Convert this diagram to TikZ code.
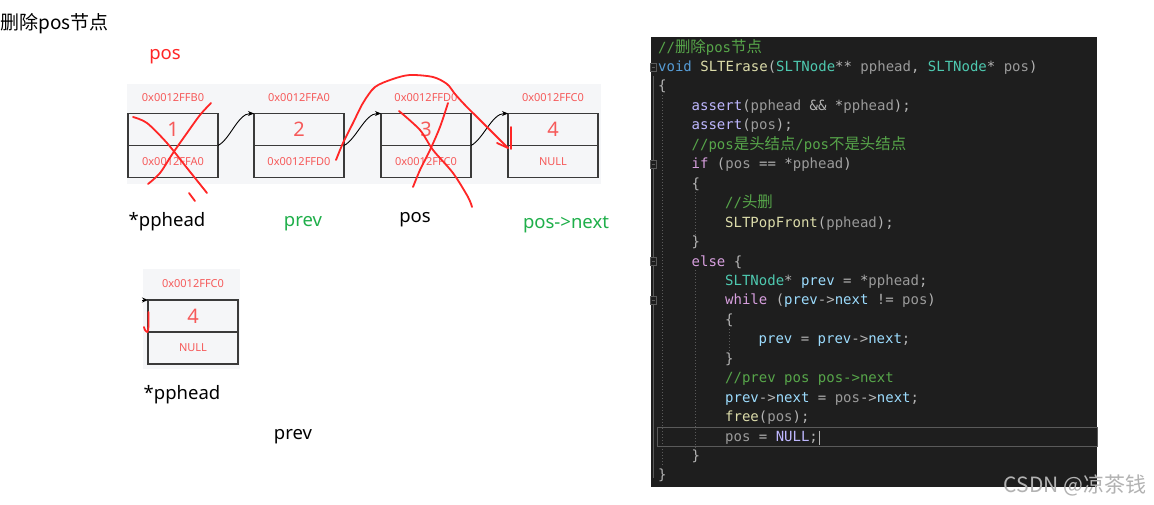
\documentclass[tikz,border=0pt]{standalone}
\usepackage{fontspec}
\setmainfont{Noto Sans}
\newfontfamily\cjk{Noto Sans CJK SC}
\newfontfamily\codefont{DejaVu Sans Mono}
\newfontfamily\cjkcode{Noto Sans CJK SC}[Scale=1.1]
\usetikzlibrary{arrows.meta,positioning}

\definecolor{markred}{HTML}{FF2626}
\definecolor{addrred}{HTML}{F65A5A}
\definecolor{labelgreen}{HTML}{1FAF4A}
\definecolor{panelgray}{HTML}{F5F6F8}
\definecolor{boxline}{HTML}{3A3A3A}
\definecolor{vsbg}{HTML}{1E1E1E}
\definecolor{vstext}{HTML}{B4B4B4}
\definecolor{vskwc}{HTML}{D8A0DF}
\definecolor{vsbluec}{HTML}{569CD6}
\definecolor{vsfnc}{HTML}{DCDCAA}
\definecolor{vsmacc}{HTML}{BEB7FF}
\definecolor{vstypec}{HTML}{4EC9B0}
\definecolor{vsprmc}{HTML}{9A9A9A}
\definecolor{vsvarc}{HTML}{9CDCFE}
\definecolor{vscmtc}{HTML}{57A64A}
\definecolor{vsguide}{HTML}{5A5A5A}

\newcommand{\vskw}[1]{\textcolor{vskwc}{#1}}
\newcommand{\vsblue}[1]{\textcolor{vsbluec}{#1}}
\newcommand{\vsfn}[1]{\textcolor{vsfnc}{#1}}
\newcommand{\vsmac}[1]{\textcolor{vsmacc}{#1}}
\newcommand{\vstype}[1]{\textcolor{vstypec}{#1}}
\newcommand{\vsprm}[1]{\textcolor{vsprmc}{#1}}
\newcommand{\vsvar}[1]{\textcolor{vsvarc}{#1}}
\newcommand{\vscmt}[1]{\textcolor{vscmtc}{#1}}

\begin{document}
\begin{tikzpicture}[
    x=1pt,y=-1pt,
    valbox/.style={draw=boxline, line width=1.2pt, minimum width=90pt, minimum height=32pt,
      inner sep=0pt, outer sep=0pt, text=addrred, font=\fontsize{20}{20}\selectfont},
    nxtbox/.style={valbox, font=\fontsize{11}{11}\selectfont},
    addr/.style={inner sep=0pt, text=addrred, font=\fontsize{11}{11}\selectfont},
    ptrlabel/.style={inner sep=0pt, font=\fontsize{18.5}{20}\selectfont},
    link/.style={-{Stealth[length=6pt,width=5pt]}, line width=0.9pt},
    redpen/.style={draw=markred, line width=1.8pt, line cap=round, line join=round},
    codeline/.style={anchor=base west, inner sep=0pt, text=vstext,
      font=\codefont\fontsize{14}{14}\selectfont},
    guide/.style={draw=vsguide, line width=0.6pt, dash pattern=on 1pt off 2pt},
    fold/.style={draw=vsguide, line width=0.6pt}
  ]
    \useasboundingbox (0,0) rectangle (1154,504);
    \fill[white] (0,0) rectangle (1154,504);

    % left: list before and after
    \node[anchor=west, inner sep=0pt, font=\cjk\fontsize{19}{19}\selectfont] (title) at (0.5,24) {删除pos节点};
    \node[ptrlabel, text=markred] (posup) at (165,57) {pos};
    \fill[panelgray] (127,84) rectangle (601,184);

    \node[valbox] (val1) at (173,129.5) {1};
    \node[nxtbox, below=0pt of val1] (nxt1) {0x0012FFA0};
    \node[valbox, right=36pt of val1] (val2) {2};
    \node[nxtbox, below=0pt of val2] (nxt2) {0x0012FFD0};
    \node[valbox, right=37pt of val2] (val3) {3};
    \node[nxtbox, below=0pt of val3] (nxt3) {0x0012FFC0};
    \node[valbox, right=37pt of val3] (val4) {4};
    \node[nxtbox, below=0pt of val4] (nxt4) {NULL};
    \node[addr, above=12pt of val1] (addr1) {0x0012FFB0};
    \node[addr, above=12pt of val2] (addr2) {0x0012FFA0};
    \node[addr, above=12pt of val3] (addr3) {0x0012FFD0};
    \node[addr, above=12pt of val4] (addr4) {0x0012FFC0};

    \draw[link] (val1.south east) .. controls +(12,-6) and +(-16,0) .. (val2.north west);
    \draw[link] (val2.south east) .. controls +(12,-6) and +(-16,0) .. (val3.north west);
    \draw[link] (val3.south east) .. controls +(12,-6) and +(-16,0) .. (val4.north west);

    \node[ptrlabel] (pphead1) at (167,222) {*pphead};
    \node[ptrlabel, text=labelgreen] (prev1) at (303,224) {prev};
    \node[ptrlabel] (pos1) at (415,220) {pos};
    \node[ptrlabel, text=labelgreen] (posnext1) at (566,225) {pos->next};

    % red marks
    \draw[redpen] plot[smooth] coordinates {(133,117) (147,123) (167,143) (187,168) (207,193)};
    \draw[redpen] plot[smooth] coordinates {(211,103) (200,115) (187,133) (173,153) (160,173) (148,184)};
    \draw[redpen] (189,193) -- (195,201);
    \draw[redpen] plot[smooth] coordinates {(399,111) (420,130) (433,150) (453,173) (468,197) (472,207)};
    \draw[redpen] plot[smooth] coordinates {(448,103) (440,127) (430,150) (420,170) (413,187)};
    \draw[redpen] plot[smooth] coordinates {(336,160) (343,143) (353,123) (363,103) (375,87) (393,79)
      (410,75) (433,77) (447,84) (455,94) (464,104) (477,117) (493,133) (508,148)};
    \draw[redpen] (497,143) -- (508,148);
    \draw[redpen] (511,127) -- (511,149);

    \fill[panelgray] (143,269) rectangle (240,369);
    \node[valbox] (val5) at (193,316) {4};
    \node[nxtbox, below=0pt of val5] (nxt5) {NULL};
    \node[addr, above=12pt of val5] (addr5) {0x0012FFC0};
    \draw[link] ([xshift=-6pt]val5.north west) -- (val5.north west);
    \draw[redpen] plot[smooth] coordinates {(148.5,312) (148.5,326) (147.5,332) (145,330) (144,327)};
    \node[ptrlabel] (pphead2) at (182,395) {*pphead};
    \node[ptrlabel] (prev2) at (293,437) {prev};

    % right: code panel
    \fill[vsbg] (651,37) rectangle (1097,487);
    \draw[fold] (653,76) -- (653,478);
    \foreach \y in {67,164,261,300}
      \draw[fold, fill=vsbg] (650,\y-4) rectangle (656,\y+4) (651.5,\y) -- (654.5,\y);
    \draw[guide] (662,95) -- (662,466);
    \draw[guide] (695.5,192) -- (695.5,236);
    \draw[guide] (695.5,270) -- (695.5,450);
    \draw[guide] (729,329) -- (729,352);
    \draw[draw=vsguide, line width=1pt] (657,427) rectangle (1097,446);

    \node[codeline] (c1) at (658,52) {\vscmt{//{\cjkcode 删除}pos{\cjkcode 节点}}};
    \node[codeline] (c2) at (658,71.5) {\vsblue{void} \vsfn{SLTErase}(\vstype{SLTNode}** \vsprm{pphead}, \vstype{SLTNode}* \vsprm{pos})};
    \node[codeline] (c3) at (658,90.9) {\{};
    \node[codeline] (c4) at (691.5,110.4) {\vsmac{assert}(\vsprm{pphead} \&\& *\vsprm{pphead});};
    \node[codeline] (c5) at (691.5,129.8) {\vsmac{assert}(\vsprm{pos});};
    \node[codeline] (c6) at (691.5,149.3) {\vscmt{//pos{\cjkcode 是头结点}/pos{\cjkcode 不是头结点}}};
    \node[codeline] (c7) at (691.5,168.7) {\vskw{if} (\vsprm{pos} == *\vsprm{pphead})};
    \node[codeline] (c8) at (691.5,188.2) {\{};
    \node[codeline] (c9) at (725,207.6) {\vscmt{//{\cjkcode 头删}}};
    \node[codeline] (c10) at (725,227.1) {\vsfn{SLTPopFront}(\vsprm{pphead});};
    \node[codeline] (c11) at (691.5,246.5) {\}};
    \node[codeline] (c12) at (691.5,266) {\vskw{else} \{};
    \node[codeline] (c13) at (725,285.4) {\vstype{SLTNode}* \vsvar{prev} = *\vsprm{pphead};};
    \node[codeline] (c14) at (725,304.9) {\vskw{while} (\vsvar{prev}->\vsvar{next} != \vsprm{pos})};
    \node[codeline] (c15) at (725,324.3) {\{};
    \node[codeline] (c16) at (758.5,343.8) {\vsvar{prev} = \vsvar{prev}->\vsvar{next};};
    \node[codeline] (c17) at (725,363.2) {\}};
    \node[codeline] (c18) at (725,382.7) {\vscmt{//prev pos pos->next}};
    \node[codeline] (c19) at (725,402.1) {\vsvar{prev}->\vsvar{next} = \vsprm{pos}->\vsvar{next};};
    \node[codeline] (c20) at (725,421.6) {\vsfn{free}(\vsprm{pos});};
    \node[codeline] (c21) at (725,441) {\vsprm{pos} = \vsmac{NULL};};
    \node[codeline] (c22) at (691.5,460.5) {\}};
    \node[codeline] (c23) at (658,479.9) {\}};
    \draw[vstext, line width=0.8pt] ([xshift=1.5pt]c21.north east) -- ([xshift=1.5pt,yshift=-1pt]c21.south east);

    \node[inner sep=0pt, text=black!30, font=\cjk\fontsize{21}{21}\selectfont] (mark) at (1075,485) {CSDN @凉茶钱};
  \end{tikzpicture}
\end{document}
